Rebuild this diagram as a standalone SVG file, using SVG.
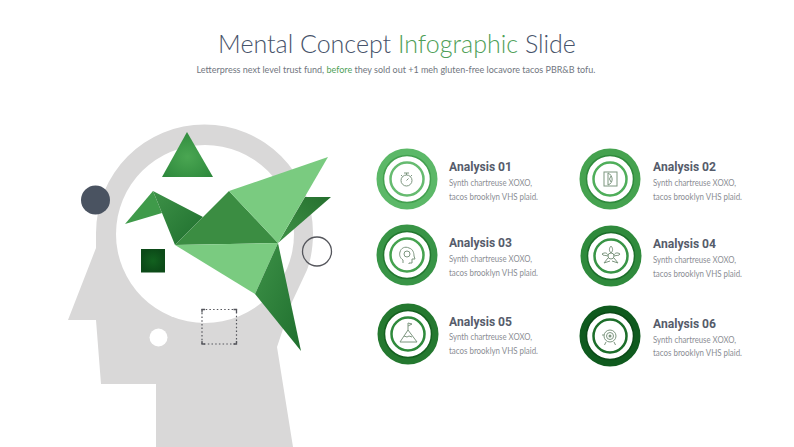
<svg xmlns="http://www.w3.org/2000/svg" width="794" height="447" viewBox="0 0 794 447">
<style>
.t{font-family:Lato,"Liberation Sans",sans-serif;font-weight:300;font-size:25px;fill:#47536a}
.s{font-family:Lato,"Liberation Sans",sans-serif;font-size:9px;fill:#717680}
.gr{fill:#4f9f58}
.h{font-family:Roboto,"Liberation Sans",sans-serif;font-weight:700;font-size:12.100px;fill:#565c6b}
.b{font-family:Lato,"Liberation Sans",sans-serif;font-size:8.700px;fill:#8b8e94}
.ic{fill:none;stroke:#7d967f;stroke-width:1}
.w{fill:#fff}
.cb{fill:none;stroke:#55565c;stroke-width:1.300}
</style>
<defs>
<radialGradient id="tri" cx=".5" cy=".55" r=".6"><stop offset="0" stop-color="#4aa652"/><stop offset="1" stop-color="#2f8a3d"/></radialGradient>
<radialGradient id="sq"><stop offset="0" stop-color="#12611f"/><stop offset="1" stop-color="#0c4a18"/></radialGradient>
<linearGradient id="wing" x1="0" y1="0" x2="1" y2="1"><stop offset="0" stop-color="#3d9147"/><stop offset="1" stop-color="#1f6f2e"/></linearGradient>
<linearGradient id="tail" x1="1" y1="0" x2="0" y2="1"><stop offset="0" stop-color="#256f2e"/><stop offset="1" stop-color="#3f9347"/></linearGradient>
</defs>
<g id="title">
<text class="t" x="397" y="53" text-anchor="middle">Mental Concept <tspan class="gr">Infographic</tspan> Slide</text>
<text class="s" x="396" y="73" text-anchor="middle">Letterpress next level trust fund, <tspan class="gr">before</tspan> they sold out +1 meh gluten-free locavore tacos PBR&amp;B tofu.</text>
</g>
<g id="head">
<path fill="#d9d8d8" d="M156 447V384H101L96 320H68L96 248V233A108.500 108.500 0 0 1 313 233C313 250 310 262 307 270L292 302L277 347L293 447Z"/>
<circle class="w" cx="205" cy="234" r="89"/>
<circle class="w" cx="158.500" cy="337.500" r="9"/>
</g>
<g id="shapes">
<circle cx="95.500" cy="200" r="14.500" fill="#4a5361"/>
<circle cx="317" cy="251.500" r="14.500" fill="none" stroke="#55565c" stroke-width="1.300"/>
<path d="M187 132L213 177H162Z" fill="url(#tri)"/>
<rect x="141" y="249" width="24" height="23.500" fill="url(#sq)"/>
<rect x="202" y="309.500" width="34.500" height="34.500" fill="none" stroke="#55565c" stroke-width="1.200" stroke-dasharray="1.500 2.200"/>
<path class="cb" d="M202 312.500v-3h3M233.500 309.500h3v3M236.500 341v3h-3M205 344h-3v-3"/>
</g>
<g id="bird">
<path d="M153 191L125 224L162 213Z" fill="#3f9a4a"/>
<path d="M153 191L203 217L175 245L162 213Z" fill="url(#wing)"/>
<path d="M305 197L331 197L278 243Z" fill="url(#tail)"/>
<path d="M229 191L278 243L175 245L203 217Z" fill="#3b8d42"/>
<path d="M229 191L328 157L278 243Z" fill="#7acb80"/>
<path d="M175 245L278 243L255 294Z" fill="#7acb80"/>
<path d="M278 243L301 351L255 294Z" fill="url(#wing)"/>
</g>
<g id="analysis-01">
<circle cx="407" cy="179" r="27" fill="#fff" stroke="#5cb868" stroke-width="7"/>
<circle cx="407" cy="179" r="23.500" fill="none" stroke="#43a04f" stroke-width="1.500"/>
<circle cx="407" cy="179" r="16.500" fill="none" stroke="#66bb70" stroke-width="2.500"/>
<circle class="ic" cx="406.500" cy="180.500" r="5.500"/><path class="ic" d="M404 173h5M406.500 173v2M406.500 180.500l2-2M401 175l1.500 1.500M412 175l-1.500 1.500"/>
<text class="h" x="449" y="171">Analysis 01</text>
<text class="b" x="449" y="186" textLength="83" lengthAdjust="spacingAndGlyphs">Synth chartreuse XOXO,</text>
<text class="b" x="449" y="200" textLength="89" lengthAdjust="spacingAndGlyphs">tacos brooklyn VHS plaid.</text>
</g>
<g id="analysis-02">
<circle cx="610" cy="179" r="27" fill="#fff" stroke="#45a24f" stroke-width="7"/>
<circle cx="610" cy="179" r="23.500" fill="none" stroke="#2f8a3c" stroke-width="1.500"/>
<circle cx="610" cy="179" r="16.500" fill="none" stroke="#4fae5a" stroke-width="2.500"/>
<rect class="ic" x="604" y="172" width="13" height="14"/><path class="ic" d="M608 173c5 2 6 10 0 12M608 173v12M611 176l-1.500 3 1.500 3"/>
<text class="h" x="653" y="171">Analysis 02</text>
<text class="b" x="653" y="186" textLength="83" lengthAdjust="spacingAndGlyphs">Synth chartreuse XOXO,</text>
<text class="b" x="653" y="200" textLength="89" lengthAdjust="spacingAndGlyphs">tacos brooklyn VHS plaid.</text>
</g>
<g id="analysis-03">
<circle cx="407" cy="255" r="27" fill="#fff" stroke="#389446" stroke-width="7"/>
<circle cx="407" cy="255" r="23.500" fill="none" stroke="#23772f" stroke-width="1.500"/>
<circle cx="407" cy="255" r="16.500" fill="none" stroke="#45a24f" stroke-width="2.500"/>
<path class="ic" d="M403 263v-3c-3-2-4-5-3-8 1-4 5-6 9-4 4 1 5 5 5 8l1 3h-3v4h-3v1"/><circle class="ic" cx="407" cy="254" r="3"/>
<text class="h" x="449" y="247">Analysis 03</text>
<text class="b" x="449" y="262" textLength="83" lengthAdjust="spacingAndGlyphs">Synth chartreuse XOXO,</text>
<text class="b" x="449" y="276" textLength="89" lengthAdjust="spacingAndGlyphs">tacos brooklyn VHS plaid.</text>
</g>
<g id="analysis-04">
<circle cx="611" cy="256" r="27" fill="#fff" stroke="#2f8a3c" stroke-width="7"/>
<circle cx="611" cy="256" r="23.500" fill="none" stroke="#1c6e2a" stroke-width="1.500"/>
<circle cx="611" cy="256" r="16.500" fill="none" stroke="#389446" stroke-width="2.500"/>
<circle class="ic" cx="611" cy="256" r="3"/><path class="ic" d="M611 253c-3-3-1-6 0-7 1 1 3 4 0 7M608 256c-3-1-5 0-6-2 3-2 5-1 6 1M614 256c3-1 5 0 6-2-3-2-5-1-6 1M608 258l-4 5 6-2M614 258l4 5-6-2"/>
<text class="h" x="653" y="248">Analysis 04</text>
<text class="b" x="653" y="263" textLength="83" lengthAdjust="spacingAndGlyphs">Synth chartreuse XOXO,</text>
<text class="b" x="653" y="277" textLength="89" lengthAdjust="spacingAndGlyphs">tacos brooklyn VHS plaid.</text>
</g>
<g id="analysis-05">
<circle cx="408" cy="334" r="27" fill="#fff" stroke="#24782f" stroke-width="7"/>
<circle cx="408" cy="334" r="23.500" fill="none" stroke="#14601f" stroke-width="1.500"/>
<circle cx="408" cy="334" r="16.500" fill="none" stroke="#2f8a3c" stroke-width="2.500"/>
<path class="ic" d="M400 342L408 330L417 342ZM408 330v-7l4 1-4 2M404 336l3 1 2-1 3 1"/>
<text class="h" x="449" y="326">Analysis 05</text>
<text class="b" x="449" y="340" textLength="83" lengthAdjust="spacingAndGlyphs">Synth chartreuse XOXO,</text>
<text class="b" x="449" y="354" textLength="89" lengthAdjust="spacingAndGlyphs">tacos brooklyn VHS plaid.</text>
</g>
<g id="analysis-06">
<circle cx="610" cy="336" r="27" fill="#fff" stroke="#0f5a1e" stroke-width="7"/>
<circle cx="610" cy="336" r="23.500" fill="none" stroke="#0b4a17" stroke-width="1.500"/>
<circle cx="610" cy="336" r="16.500" fill="none" stroke="#1c6e2a" stroke-width="2.500"/>
<circle class="ic" cx="610" cy="336" r="6"/><circle class="ic" cx="610" cy="336" r="3.500"/><circle cx="610" cy="336" r="1.500" fill="#7d967f"/><path class="ic" d="M606 342l-1.500 3M614 342l1.500 3M604 335h-2"/>
<text class="h" x="653" y="328">Analysis 06</text>
<text class="b" x="653" y="343" textLength="83" lengthAdjust="spacingAndGlyphs">Synth chartreuse XOXO,</text>
<text class="b" x="653" y="356" textLength="89" lengthAdjust="spacingAndGlyphs">tacos brooklyn VHS plaid.</text>
</g>
</svg>
